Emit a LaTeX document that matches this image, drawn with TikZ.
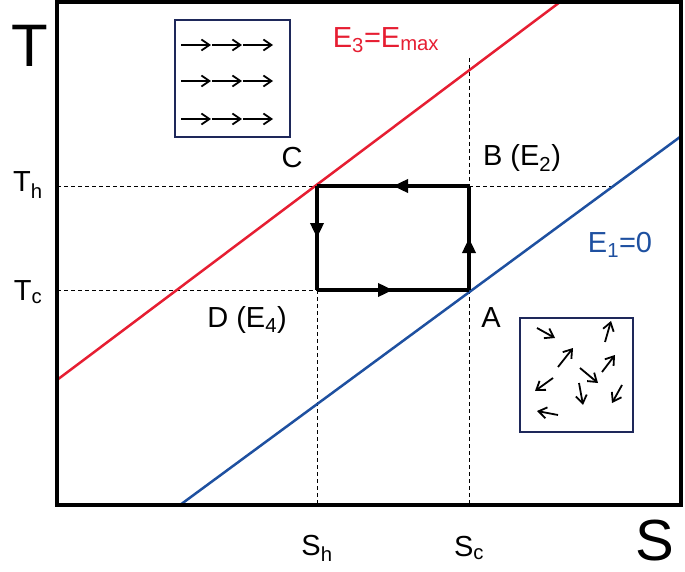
\documentclass[tikz,border=0pt]{standalone}
\usepackage{fontspec}
\setmainfont{Liberation Sans}
\usetikzlibrary{arrows.meta,decorations.markings}
\definecolor{ered}{RGB}{230,30,50}
\definecolor{eblue}{RGB}{30,80,160}
\definecolor{navy}{RGB}{30,40,90}
\begin{document}
\begin{tikzpicture}[x=1pt,y=-1pt,
  lbl/.style={font=\fontsize{29}{31}\selectfont,inner sep=0},
  dsh/.style={dash pattern=on 4pt off 3pt,line width=0.9pt},
  small/.style={-{Straight Barb[length=8pt,width=11pt,line width=1.8pt]},line width=1.8pt},
  cyc/.style={line width=3.5pt,postaction={decorate},decoration={markings,mark=at position 0.5 with {\arrow{Triangle[length=15pt,width=13pt]}}}}]
\useasboundingbox (0,0) rectangle (685,572);
% dashed
\coordinate (C) at (317,186); \coordinate (B) at (469,186);
\coordinate (A) at (469,290); \coordinate (D) at (317,290);
\draw[dsh] (57,186) -- (C); \draw[dsh] (B) -- (612,186);
\draw[dsh] (57,290) -- (D);
\draw[dsh] (D) -- (317,505);
\draw[dsh] (469,58) -- (B); \draw[dsh] (A) -- (469,505);
% lines
\draw[ered,line width=2.5pt] (57,380) -- (560,2);
\draw[eblue,line width=2.5pt] (180,505) -- (680,137);
% cycle
\draw[cyc] (B) -- (C); \draw[cyc] (C) -- (D); \draw[cyc] (D) -- (A); \draw[cyc] (A) -- (B);
% frame
\draw[line width=4pt] (57,2) rectangle (681,505);
% labels
\node[font=\fontsize{60}{62}\selectfont,inner sep=0] (T) at (30,46) {T};
\node[font=\fontsize{58}{60}\selectfont,inner sep=0] (S) at (655,541) {S};
\node[lbl] (th) at (28,185) {T\textsubscript{h}};
\node[lbl] (tc) at (28,292) {T\textsubscript{c}};
\node[lbl] (sh) at (317,548) {S\textsubscript{h}};
\node[lbl] (sc) at (469,548) {S\textsubscript{c}};
\node[lbl] (lc) at (292,158) {C};
\node[lbl] (lb) at (522,158) {B (E\textsubscript{2})};
\node[lbl] (ld) at (247,320) {D (E\textsubscript{4})};
\node[lbl] (la) at (491,318) {A};
\node[lbl,text=ered] (e3) at (386,40) {E\textsubscript{3}=E\textsubscript{max}};
\node[lbl,text=eblue] (e1) at (620,245) {E\textsubscript{1}=0};
% boxes
\draw[navy,line width=1.3pt] (175,20) rectangle (290,137);
\foreach \y in {45,81,119}{\foreach \x in {181,212,243}{\draw[small] (\x,\y) -- (\x+30,\y);}}
\draw[navy,line width=1.3pt] (520,318) rectangle (633,432);
\foreach \a/\b/\c/\d in {537/328/555/338, 605/342/611/321, 558/367/573/348, 602/372/615/355, 580/368/598/383, 553/378/535/391, 579/383/583/405, 622/385/612/403, 558/415/537/411}
  \draw[small] (\a,\b) -- (\c,\d);
\end{tikzpicture}
\end{document}
